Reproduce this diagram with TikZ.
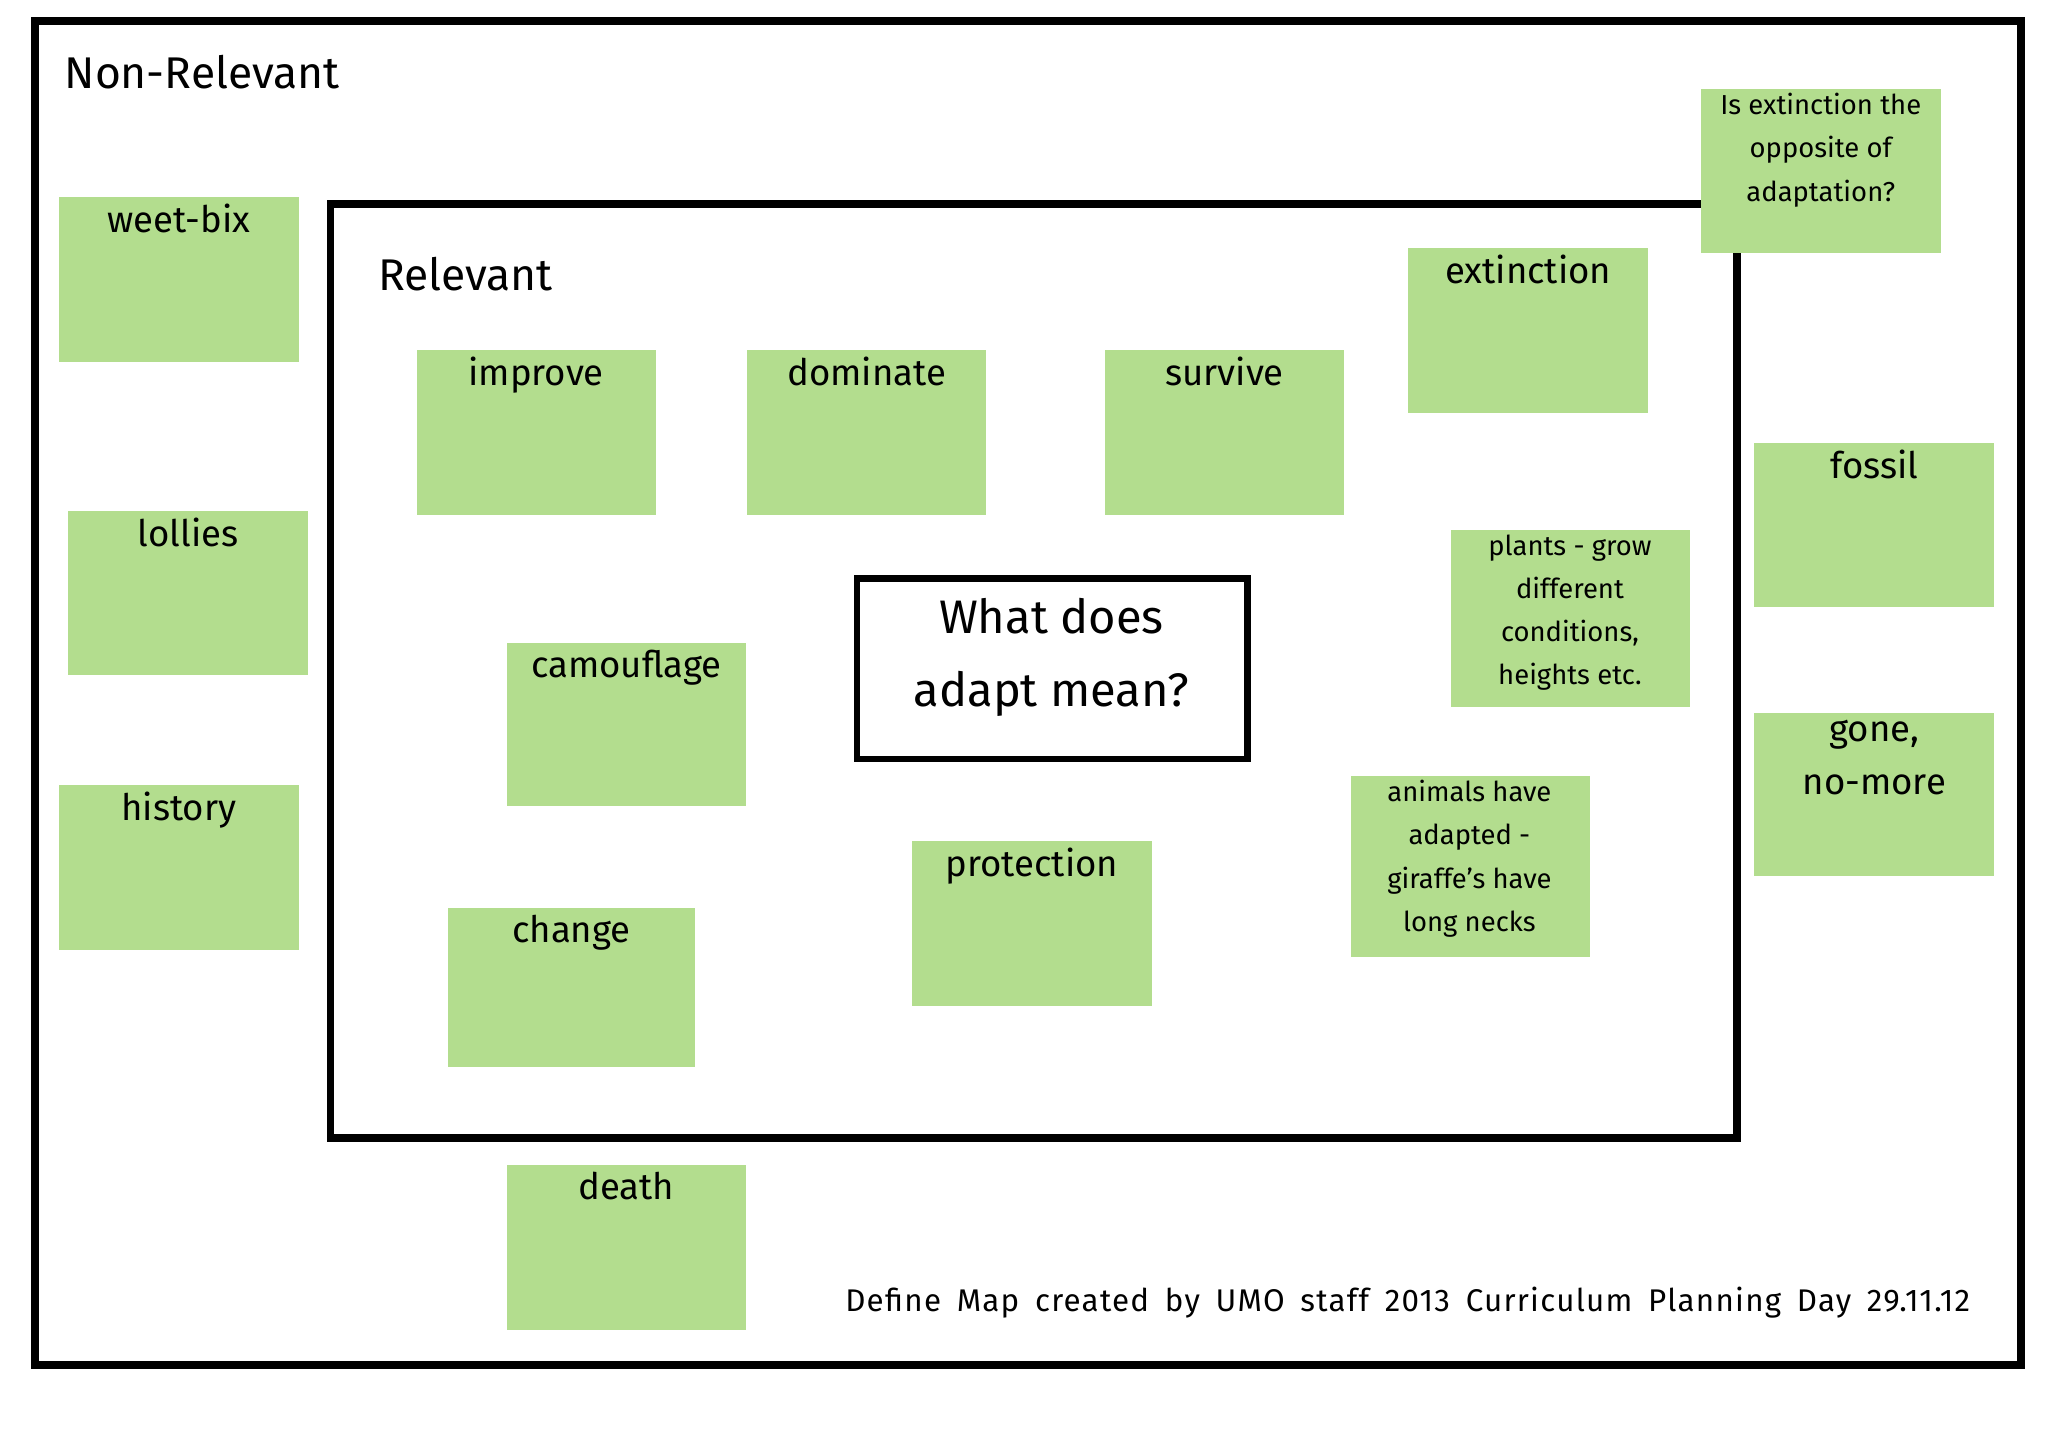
\documentclass[tikz,border=0pt]{standalone}
\usepackage{fontspec}
\setmainfont{Fira Sans}
\newfontfamily\footfont[LetterSpace=4]{Fira Sans}
\definecolor{note}{HTML}{B3DD8E}
\begin{document}
\begin{tikzpicture}[x=1pt,y=-1pt,
  notebox/.style={fill=note,draw=none},
  bigtxt/.style={font=\fontsize{28}{32}\selectfont,anchor=north},
  smalltxt/.style={font=\fontsize{21}{33}\selectfont,anchor=north,align=center}]
\useasboundingbox (0,0) rectangle (1568,1108);
\fill[white] (0,0) rectangle (1568,1108);
\draw[line width=6] (27,16) rectangle (1547,1045);
\draw[line width=6] (253,156) rectangle (1330,871);
\node[anchor=west,font=\fontsize{34}{38}\selectfont] (nr) at (46,55) {Non-Relevant};
\node[anchor=west,font=\fontsize{34}{38}\selectfont] (rl) at (286,210) {Relevant};
\foreach \n/\a/\b/\c/\d/\t in {
 wb/45/151/229/277/weet-bix, lo/52/391/236/517/lollies, hi/45/601/229/727/history,
 im/319/268/502/394/improve, do/572/268/755/394/dominate, su/846/268/1029/394/survive,
 ex/1078/190/1262/316/extinction, fo/1343/339/1527/465/fossil,
 ca/388/492/571/617/camouflage, pr/698/644/882/770/protection,
 ch/343/695/532/817/change, de/388/892/571/1018/death}{
 \fill[notebox] (\a,\b) rectangle (\c,\d);
 \node[bigtxt] (\n) at ({(\a+\c)/2},\b+2) {\t};
}
\fill[notebox] (1343,546) rectangle (1527,671);
\node[bigtxt,align=center,font=\fontsize{28}{40}\selectfont] (go) at (1435,548) {gone,\\no-more};
\fill[notebox] (1302,68) rectangle (1486,194);
\node[smalltxt] (ie) at (1394,68) {Is extinction the\\opposite of\\adaptation?};
\fill[notebox] (1111,406) rectangle (1294,541);
\node[smalltxt] (pl) at (1202,406) {plants - grow\\different\\conditions,\\heights etc.};
\fill[notebox] (1034,594) rectangle (1217,733);
\node[smalltxt] (an) at (1125,594) {animals have\\adapted -\\giraffe’s have\\long necks};
\draw[line width=5] (656,443) rectangle (955,581);
\node[align=center,font=\fontsize{36}{56}\selectfont] (q) at (805,503) {What does\\adapt mean?};
\node[anchor=east] (ft) at (1512,997) {\fontsize{24}{28}\footfont\spaceskip 12pt Define Map created by UMO staff 2013 Curriculum Planning Day 29.11.12};
\end{tikzpicture}
\end{document}
